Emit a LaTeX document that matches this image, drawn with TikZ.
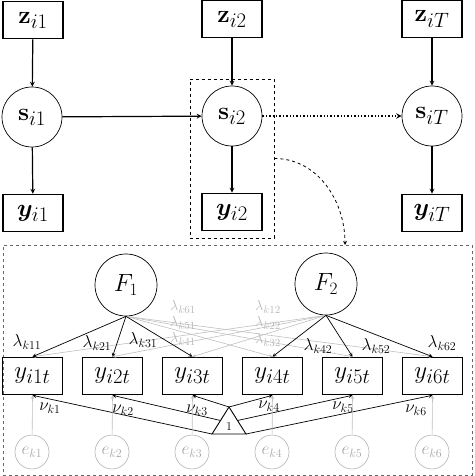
\documentclass[tikz,border=0pt]{standalone}
\usepackage{amsmath,bm}
\begin{document}
\begin{tikzpicture}[
    x=1pt, y=-1pt,
    obs/.style={rectangle, draw, line width=1.6pt, minimum width=60pt, minimum height=37pt, inner sep=0pt, font=\fontsize{29}{32}\selectfont},
    lat/.style={circle, draw, line width=0.7pt, minimum size=60pt, inner sep=0pt, font=\fontsize{29}{32}\selectfont},
    fac/.style={circle, draw, line width=0.7pt, minimum size=62pt, inner sep=0pt, font=\fontsize{23}{26}\selectfont},
    err/.style={circle, draw=gray!60, text=gray!70, line width=0.6pt, minimum size=34pt, inner sep=0pt, font=\fontsize{17}{19}\selectfont},
    lab/.style={inner sep=0pt, font=\fontsize{18}{20}\selectfont},
    dimlab/.style={inner sep=0pt, text=gray!55, font=\fontsize{15}{17}\selectfont},
    dimline/.style={draw=gray!50, line width=0.6pt},
    >=stealth
]
    \useasboundingbox (0,0) rectangle (474,476);

    % Time slices
    \node[obs] (z1) at (33,20)  {$\mathbf{z}_{i1}$};
    \node[obs] (z2) at (232,19) {$\mathbf{z}_{i2}$};
    \node[obs] (zT) at (432,19) {$\mathbf{z}_{iT}$};
    \node[lat] (s1) at (32,117)  {$\mathbf{s}_{i1}$};
    \node[lat] (s2) at (232,116) {$\mathbf{s}_{i2}$};
    \node[lat] (sT) at (432,116) {$\mathbf{s}_{iT}$};
    \node[obs] (y1) at (33,213)  {$\boldsymbol{y}_{i1}$};
    \node[obs] (y2) at (232,212) {$\boldsymbol{y}_{i2}$};
    \node[obs] (yT) at (432,213) {$\boldsymbol{y}_{iT}$};

    \draw[->, line width=1.2pt] (z1) -- (s1);
    \draw[->, line width=1.2pt] (z2) -- (s2);
    \draw[->, line width=1.2pt] (zT) -- (sT);
    \draw[->, line width=1.2pt] (s1) -- (y1);
    \draw[->, line width=1.2pt] (s2) -- (y2);
    \draw[->, line width=1.2pt] (sT) -- (yT);
    \draw[->, line width=1.2pt] (s1) -- (s2);
    \draw[->, line width=1.4pt, dotted] (s2) -- (sT);

    % Zoom
    \node[draw, dashed, line width=0.8pt, minimum width=84pt, minimum height=159pt] (zoombox) at (232,158.5) {};
    \node[draw=black!60, dashed, line width=0.8pt, minimum width=469pt, minimum height=230pt] (detail) at (237.5,360) {};
    \coordinate (tip) at (345,245);
    \draw[->, dashed, line width=0.8pt] (zoombox.east) to[out=0, in=90] (tip);

    % Measurement model
    \node[fac] (F1) at (126,285) {$F_1$};
    \node[fac] (F2) at (326,284) {$F_2$};
    \node[obs] (m1) at (32.5,376)  {$y_{i1t}$};
    \node[obs] (m2) at (112.5,376) {$y_{i2t}$};
    \node[obs] (m3) at (192.5,376) {$y_{i3t}$};
    \node[obs] (m4) at (272.5,376) {$y_{i4t}$};
    \node[obs] (m5) at (352.5,376) {$y_{i5t}$};
    \node[obs] (m6) at (432.5,376) {$y_{i6t}$};
    \node[err] (e1) at (32,452)  {$e_{k1}$};
    \node[err] (e2) at (112,452) {$e_{k2}$};
    \node[err] (e3) at (192,452) {$e_{k3}$};
    \node[err] (e4) at (272,452) {$e_{k4}$};
    \node[err] (e5) at (352,452) {$e_{k5}$};
    \node[err] (e6) at (432,452) {$e_{k6}$};

    % Cross loadings
    \draw[->, dimline] (F1.south) -- (m4.north);
    \draw[->, dimline] (F1.south) -- (m5.north);
    \draw[->, dimline] (F1.south) -- (m6.north);
    \draw[->, dimline] (F2.south) -- (m1.north);
    \draw[->, dimline] (F2.south) -- (m2.north);
    \draw[->, dimline] (F2.south) -- (m3.north);
    \node[dimlab] at (183,307) {$\lambda_{k61}$};
    \node[dimlab] at (183,323) {$\lambda_{k51}$};
    \node[dimlab] at (183,339) {$\lambda_{k41}$};
    \node[dimlab] at (268,307) {$\lambda_{k12}$};
    \node[dimlab] at (268,323) {$\lambda_{k22}$};
    \node[dimlab] at (268,340) {$\lambda_{k32}$};

    % Loadings
    \draw[->, line width=0.7pt] (F1.south) -- (m1.north);
    \draw[->, line width=0.7pt] (F1.south) -- (m2.north);
    \draw[->, line width=0.7pt] (F1.south) -- (m3.north);
    \draw[->, line width=0.7pt] (F2.south) -- (m4.north);
    \draw[->, line width=0.7pt] (F2.south) -- (m5.north);
    \draw[->, line width=0.7pt] (F2.south) -- (m6.north);
    \node[lab] at (27,342)  {$\lambda_{k11}$};
    \node[lab] at (97,343)  {$\lambda_{k21}$};
    \node[lab] at (143,340) {$\lambda_{k31}$};
    \node[lab] at (318,346) {$\lambda_{k42}$};
    \node[lab] at (376,346) {$\lambda_{k52}$};
    \node[lab] at (442,343) {$\lambda_{k62}$};

    % Intercepts
    \coordinate (ta)  at (229,407);
    \coordinate (tl)  at (212,434);
    \coordinate (tr)  at (246,434);
    \coordinate (tml) at (220.5,420.5);
    \coordinate (tmr) at (237.5,420.5);
    \draw[line width=0.9pt] (tl) -- (ta) -- (tr) -- cycle;
    \node[font=\fontsize{12}{13}\selectfont] (one) at (229,427) {1};
    \draw[->, line width=0.7pt] (tl)  -- (m1.south);
    \draw[->, line width=0.7pt] (tml) -- (m2.south);
    \draw[->, line width=0.7pt] (ta)  -- (m3.south);
    \draw[->, line width=0.7pt] (ta)  -- (m4.south);
    \draw[->, line width=0.7pt] (tmr) -- (m5.south);
    \draw[->, line width=0.7pt] (tr)  -- (m6.south);
    \node[lab] at (50,408)  {$\nu_{k1}$};
    \node[lab] at (123,410) {$\nu_{k2}$};
    \node[lab] at (197,410) {$\nu_{k3}$};
    \node[lab] at (269,406) {$\nu_{k4}$};
    \node[lab] at (343,407) {$\nu_{k5}$};
    \node[lab] at (416,410) {$\nu_{k6}$};

    % Errors
    \draw[->, dimline] (e1) -- (m1.south);
    \draw[->, dimline] (e2) -- (m2.south);
    \draw[->, dimline] (e3) -- (m3.south);
    \draw[->, dimline] (e4) -- (m4.south);
    \draw[->, dimline] (e5) -- (m5.south);
    \draw[->, dimline] (e6) -- (m6.south);
\end{tikzpicture}
\end{document}
